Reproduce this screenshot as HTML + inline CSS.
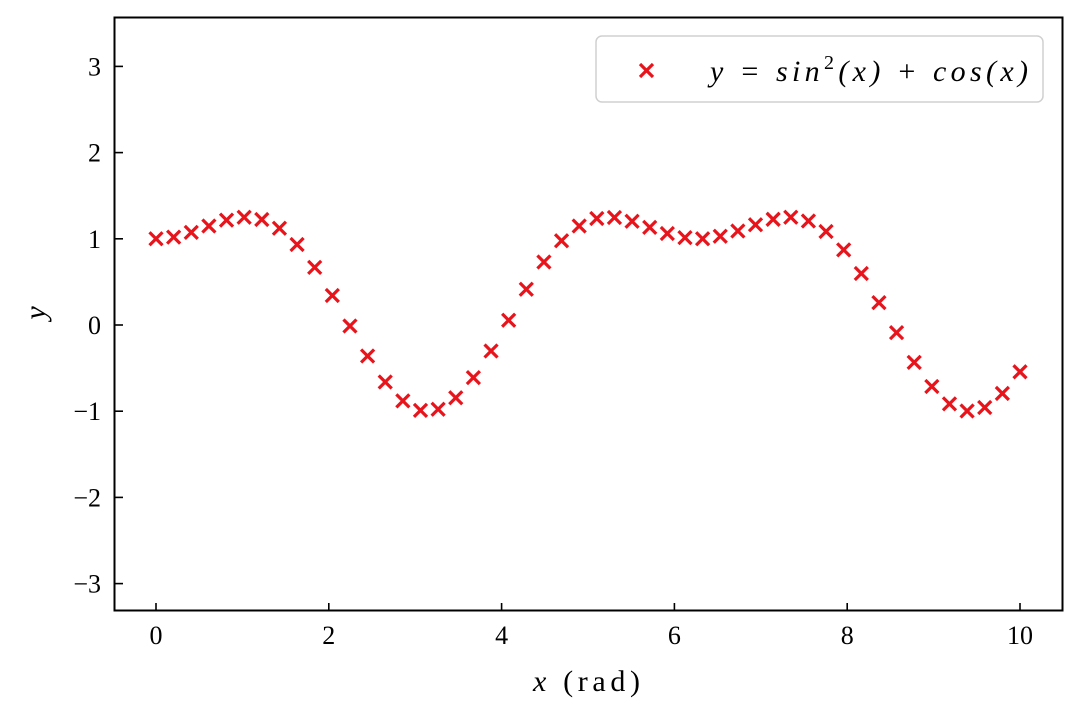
<!DOCTYPE html>
<html><head><meta charset="utf-8"><style>
html,body{margin:0;padding:0;background:#fff}
svg{display:block}
text{font-family:"Liberation Serif","DejaVu Serif",serif;fill:#000}
</style></head><body>
<svg id="chart" width="1080" height="716" viewBox="0 0 1080 716" xmlns="http://www.w3.org/2000/svg">
<rect x="114.5" y="17.5" width="948" height="593" fill="none" stroke="#000" stroke-width="2"/>
<g id="xticks"></g>
<g id="yticks"></g>
<g id="pts"></g>
<text x="533" y="691" font-size="30" textLength="107" lengthAdjust="spacing"><tspan font-style="italic">x</tspan> (rad)</text>
<text x="0" y="0" font-size="30" font-style="italic" text-anchor="middle" transform="translate(45,313) rotate(-90)">y</text>
<g>
<rect x="596" y="36" width="447" height="66" rx="6" fill="#fff" stroke="#d0d0d0" stroke-width="1.5"/>
<g stroke="#e8141c" stroke-width="3.2">
<line x1="640" y1="64" x2="653" y2="77"/><line x1="640" y1="77" x2="653" y2="64"/></g>
<text x="710" y="81" font-size="30" font-style="italic" textLength="318" lengthAdjust="spacing">y = sin<tspan font-size="20" dy="-12" font-style="normal">2</tspan><tspan dy="12">(x) + cos(x)</tspan></text>
</g>
</svg>
<script>
const xValues=[0,0.2041,0.4082,0.6122,0.8163,1.0204,1.2245,1.4286,1.6327,1.8367,2.0408,2.2449,2.4490,2.6531,2.8571,3.0612,3.2653,3.4694,3.6735,3.8776,4.0816,4.2857,4.4898,4.6939,4.8980,5.1020,5.3061,5.5102,5.7143,5.9184,6.1224,6.3265,6.5306,6.7347,6.9388,7.1429,7.3469,7.5510,7.7551,7.9592,8.1633,8.3673,8.5714,8.7755,8.9796,9.1837,9.3878,9.5918,9.7959,10];
const yValues=[1,1.020,1.075,1.149,1.216,1.250,1.224,1.122,0.934,0.668,0.342,-0.012,-0.360,-0.661,-0.880,-0.990,-0.977,-0.844,-0.610,-0.302,0.055,0.415,0.731,0.978,1.149,1.235,1.247,1.203,1.133,1.061,1.013,1.001,1.030,1.090,1.163,1.226,1.250,1.207,1.085,0.872,0.598,0.259,-0.089,-0.434,-0.713,-0.915,-0.998,-0.957,-0.794,-0.543];
const xTicks=[0,2,4,6,8,10];
const yTicks=[-3,-2,-1,0,1,2,3];
const NS="http://www.w3.org/2000/svg";
const sx=v=>156+v*86.4;
const sy=v=>325-v*86.2;
function mk(tag,attrs,parent){const e=document.createElementNS(NS,tag);for(const k in attrs)e.setAttribute(k,attrs[k]);parent.appendChild(e);return e;}
const xg=document.getElementById('xticks'),yg=document.getElementById('yticks'),pg=document.getElementById('pts');
xTicks.forEach(t=>{
 const l=mk('line',{x1:sx(t),x2:sx(t),y1:611,y2:603,stroke:'#000','stroke-width':1.6},xg);
 
 
 const tx=mk('text',{x:sx(t),y:644,'font-size':26,'text-anchor':'middle'},xg);
 
 
 tx.textContent=t;
});
yTicks.forEach(t=>{
 const l=mk('line',{x1:115,x2:123,y1:sy(t),y2:sy(t),stroke:'#000','stroke-width':1.6},yg);
 
 
 const tx=mk('text',{x:101,y:sy(t)+9,'font-size':26,'text-anchor':'end'},yg);
 
 
 tx.textContent=t<0?'\u2212'+Math.abs(t):String(t);
});
xValues.forEach((xv,i)=>{
 const cx=sx(xv),cy=sy(yValues[i]),r=6.5;
 const g=mk('g',{stroke:'#e8141c','stroke-width':3.2},pg);
 
 
 mk('line',{x1:cx-r,y1:cy-r,x2:cx+r,y2:cy+r},g);
 mk('line',{x1:cx-r,y1:cy+r,x2:cx+r,y2:cy-r},g);
});
</script>
</body></html>
